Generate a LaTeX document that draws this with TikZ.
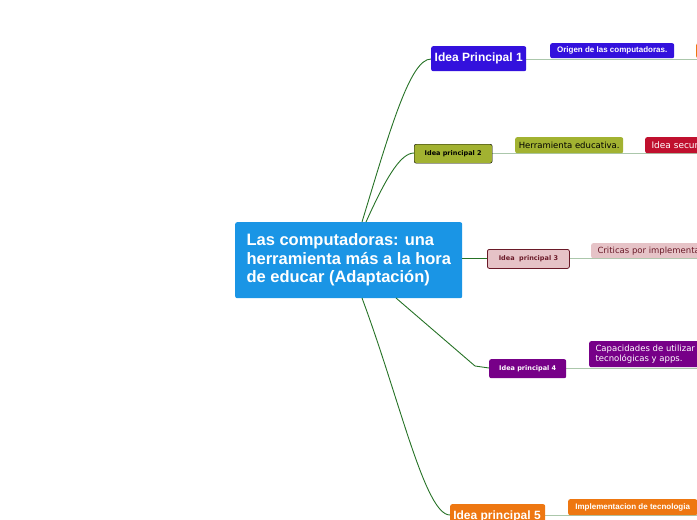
\documentclass[tikz,border=0pt]{standalone}
\usepackage{fontspec}
\setmainfont{Liberation Sans}
\newfontfamily\verd{DejaVu Sans}
\begin{document}
\begin{tikzpicture}[x=1pt,y=-1pt,
  box/.style={rounded corners=2pt,inner sep=0pt,anchor=north west,text depth=0pt},
  main/.style={draw=green!35!black!85,line width=0.9pt},
  sub/.style={draw=green!20!gray!55,line width=0.8pt}]
\definecolor{cblue}{HTML}{1A95E5}
\definecolor{cviol}{HTML}{3311DD}
\definecolor{colive}{HTML}{A2B231}
\definecolor{ccrim}{HTML}{C0102E}
\definecolor{cpink}{HTML}{E6C3C7}
\definecolor{cmar}{HTML}{6A1A28}
\definecolor{cpurp}{HTML}{770088}
\definecolor{corng}{HTML}{EE7711}
\clip (0,0) rectangle (697,520);
\useasboundingbox (0,0) rectangle (697,520);
% secondary lines
\coordinate (r1) at (697,59); \coordinate (r2) at (697,153);
\coordinate (r3) at (697,258); \coordinate (r4) at (697,368);
\coordinate (r5) at (697,515);
\draw[sub] (526,59) -- (r1);
\draw[sub] (492,153) -- (r2);
\draw[sub] (569,258) -- (r3);
\draw[sub] (566,368) -- (r4);
\draw[sub] (545,515) -- (r5);
% nodes
\node[box,fill=cblue,minimum width=227pt,minimum height=76pt] (c) at (235,222) {};
\node[anchor=west,text=white,font=\bfseries\fontsize{16.5}{18.5}\selectfont,align=left] at (243,260) {Las computadoras: una\\herramienta más a la hora\\de educar (Adaptación)};
\node[box,fill=cviol,minimum width=95pt,minimum height=25pt] (p1) at (431,46) {};
\node[text=white,font=\bfseries\fontsize{12}{14}\selectfont] at (p1.center) {Idea Principal 1};
\node[box,fill=cviol,minimum width=124pt,minimum height=15pt] (s1) at (550,43) {};
\node[text=white,font=\bfseries\fontsize{8}{9}\selectfont] at (s1.center) {Origen de las computadoras.};
\node[box,fill=corng,minimum width=10pt,minimum height=15pt] at (696,43) {};
\node[box,fill=colive,draw=black,minimum width=78pt,minimum height=19pt] (p2) at (414,144) {};
\node[font=\verd\bfseries\fontsize{6.5}{8}\selectfont] at (p2.center) {Idea principal 2};
\node[box,fill=colive,minimum width=108pt,minimum height=16pt] (s2) at (515,137) {};
\node[font=\verd\fontsize{8.5}{9}\selectfont] at (s2.center) {Herramienta educativa.};
\node[box,fill=ccrim,minimum width=80pt,minimum height=16pt] (s2b) at (645,137) {};
\node[anchor=west,text=white,font=\verd\fontsize{9}{9}\selectfont] at (648,145) {Idea secundaria};
\node[box,fill=cpink,draw=cmar,line width=0.8pt,minimum width=82pt,minimum height=19pt] (p3) at (487,249) {};
\node[text=cmar,font=\verd\bfseries\fontsize{6.5}{8}\selectfont] at (p3.center) {Idea\ \ principal 3};
\node[box,fill=cpink,minimum width=130pt,minimum height=15pt] (s3) at (591,243) {};
\node[anchor=west,text=cmar,font=\verd\fontsize{8.5}{9}\selectfont] at (594,251) {Criticas por implementación};
\node[box,fill=cpurp,minimum width=77pt,minimum height=19pt] (p4) at (489,359) {};
\node[text=white,font=\verd\bfseries\fontsize{6.5}{8}\selectfont] at (p4.center) {Idea principal 4};
\node[box,fill=cpurp,minimum width=130pt,minimum height=26pt] (s4) at (589,341) {};
\node[anchor=west,text=white,font=\verd\fontsize{8.5}{10.5}\selectfont,align=left] at (592,354) {Capacidades de utilizar\\tecnológicas y apps.};
\node[box,fill=corng,minimum width=95pt,minimum height=24pt] (p5) at (450,504) {};
\node[anchor=north,text=white,font=\bfseries\fontsize{12}{14}\selectfont] at (497,507) {Idea principal 5};
\node[box,fill=corng,minimum width=129pt,minimum height=16pt] (s5) at (568,499) {};
\node[text=white,font=\bfseries\fontsize{8}{9}\selectfont] at (s5.center) {Implementacion de tecnologia};
% main connectors
\draw[main] (362,222) .. controls (390,130) and (410,59) .. (431,59);
\draw[main] (366,222) .. controls (385,180) and (400,153) .. (414,153);
\draw[main] (462,258) -- (487,258);
\draw[main] (396,298) -- (475,366) -- (489,368);
\draw[main] (362,298) .. controls (400,400) and (425,515) .. (450,515);
\end{tikzpicture}
\end{document}
